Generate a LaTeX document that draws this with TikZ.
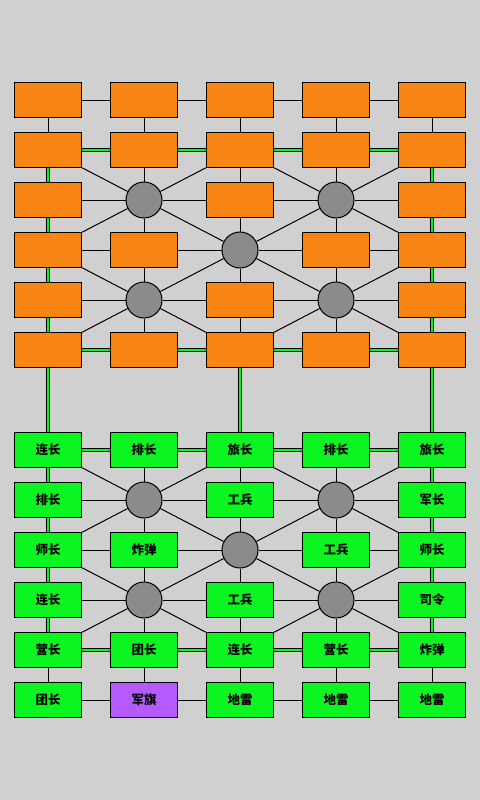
\documentclass[tikz,border=0pt]{standalone}
\usepackage{fontspec}
\newfontfamily\cjk{Noto Sans CJK SC}
\usetikzlibrary{backgrounds}

\definecolor{boardgray}{RGB}{208,208,208}
\definecolor{enemyorange}{RGB}{248,132,20}
\definecolor{owngreen}{RGB}{13,245,32}
\definecolor{flagpurple}{RGB}{180,90,255}
\definecolor{campgray}{RGB}{140,138,140}

\tikzset{
	post/.style={shape=rectangle, draw=black, line width=1bp, minimum width=67bp, minimum height=35bp, inner sep=0pt, font=\cjk\bfseries\fontsize{12.5bp}{12.5bp}\selectfont},
	enemy/.style={post, fill=enemyorange},
	own/.style={post, fill=owngreen},
	flag/.style={post, fill=flagpurple},
	camp/.style={shape=circle, draw=black, line width=1bp, fill=campgray, minimum size=36bp, inner sep=0pt},
	road/.style={black, line width=1bp},
	rail/.style={draw=black, line width=1bp, double=owngreen, double distance=2bp},
}

\begin{document}
\begin{tikzpicture}[x=1bp, y=-1bp]
	% enemy half
	\foreach \r/\y in {1/100, 2/150, 6/350}
		\foreach \c in {1,...,5}
			\node[enemy] (\r-\c) at ({48+96*(\c-1)},\y) {};
	\foreach \r/\y in {3/200, 5/300}
		\foreach \c in {1,3,5}
			\node[enemy] (\r-\c) at ({48+96*(\c-1)},\y) {};
	\foreach \c in {1,2,4,5}
		\node[enemy] (4-\c) at ({48+96*(\c-1)},250) {};

	% own half
	\foreach \c/\t in {1/连长, 2/排长, 3/旅长, 4/排长, 5/旅长}
		\node[own] (7-\c) at ({48+96*(\c-1)},450) {\t};
	\foreach \c/\t in {1/排长, 3/工兵, 5/军长}
		\node[own] (8-\c) at ({48+96*(\c-1)},500) {\t};
	\foreach \c/\t in {1/师长, 2/炸弹, 4/工兵, 5/师长}
		\node[own] (9-\c) at ({48+96*(\c-1)},550) {\t};
	\foreach \c/\t in {1/连长, 3/工兵, 5/司令}
		\node[own] (10-\c) at ({48+96*(\c-1)},600) {\t};
	\foreach \c/\t in {1/营长, 2/团长, 3/连长, 4/营长, 5/炸弹}
		\node[own] (11-\c) at ({48+96*(\c-1)},650) {\t};
	\node[own]  (12-1) at (48,700)  {团长};
	\node[flag] (12-2) at (144,700) {军旗};
	\foreach \c in {3,4,5}
		\node[own] (12-\c) at ({48+96*(\c-1)},700) {地雷};

	% camps
	\foreach \r/\c/\y in {3/2/200, 3/4/200, 4/3/250, 5/2/300, 5/4/300, 8/2/500, 8/4/500, 9/3/550, 10/2/600, 10/4/600}
		\node[camp] (\r-\c) at ({48+96*(\c-1)},\y) {};

	\begin{scope}[on background layer]
		\fill[boardgray] (0,0) rectangle (480,800);

		% roads
		\foreach \r in {1,3,4,5,8,9,10,12}
			\foreach \c in {1,...,4} {
				\pgfmathtruncatemacro\cr{\c+1}
				\draw[road] (\r-\c) -- (\r-\cr);
			}
		\foreach \c in {2,3,4}
			\foreach \r in {1,...,5,7,8,9,10,11} {
				\pgfmathtruncatemacro\rd{\r+1}
				\draw[road] (\r-\c) -- (\rd-\c);
			}
		\foreach \c in {1,5} {
			\draw[road] (1-\c) -- (2-\c);
			\draw[road] (11-\c) -- (12-\c);
		}
		% diagonals out of the four corner camps of each half
		\foreach \r/\c in {3/2, 3/4, 5/2, 5/4, 8/2, 8/4, 10/2, 10/4} {
			\pgfmathtruncatemacro\ru{\r-1}
			\pgfmathtruncatemacro\rd{\r+1}
			\pgfmathtruncatemacro\cl{\c-1}
			\pgfmathtruncatemacro\cr{\c+1}
			\draw[road] (\r-\c) -- (\ru-\cl);
			\draw[road] (\r-\c) -- (\ru-\cr);
			\draw[road] (\r-\c) -- (\rd-\cl);
			\draw[road] (\r-\c) -- (\rd-\cr);
		}

		% railways
		\foreach \r in {2,6,7,11}
			\foreach \c in {1,...,4} {
				\pgfmathtruncatemacro\cr{\c+1}
				\draw[rail] (\r-\c) -- (\r-\cr);
			}
		\foreach \c in {1,5}
			\foreach \r in {2,...,10} {
				\pgfmathtruncatemacro\rd{\r+1}
				\draw[rail] (\r-\c) -- (\rd-\c);
			}
		\draw[rail] (6-3) -- (7-3);
	\end{scope}
\end{tikzpicture}
\end{document}
